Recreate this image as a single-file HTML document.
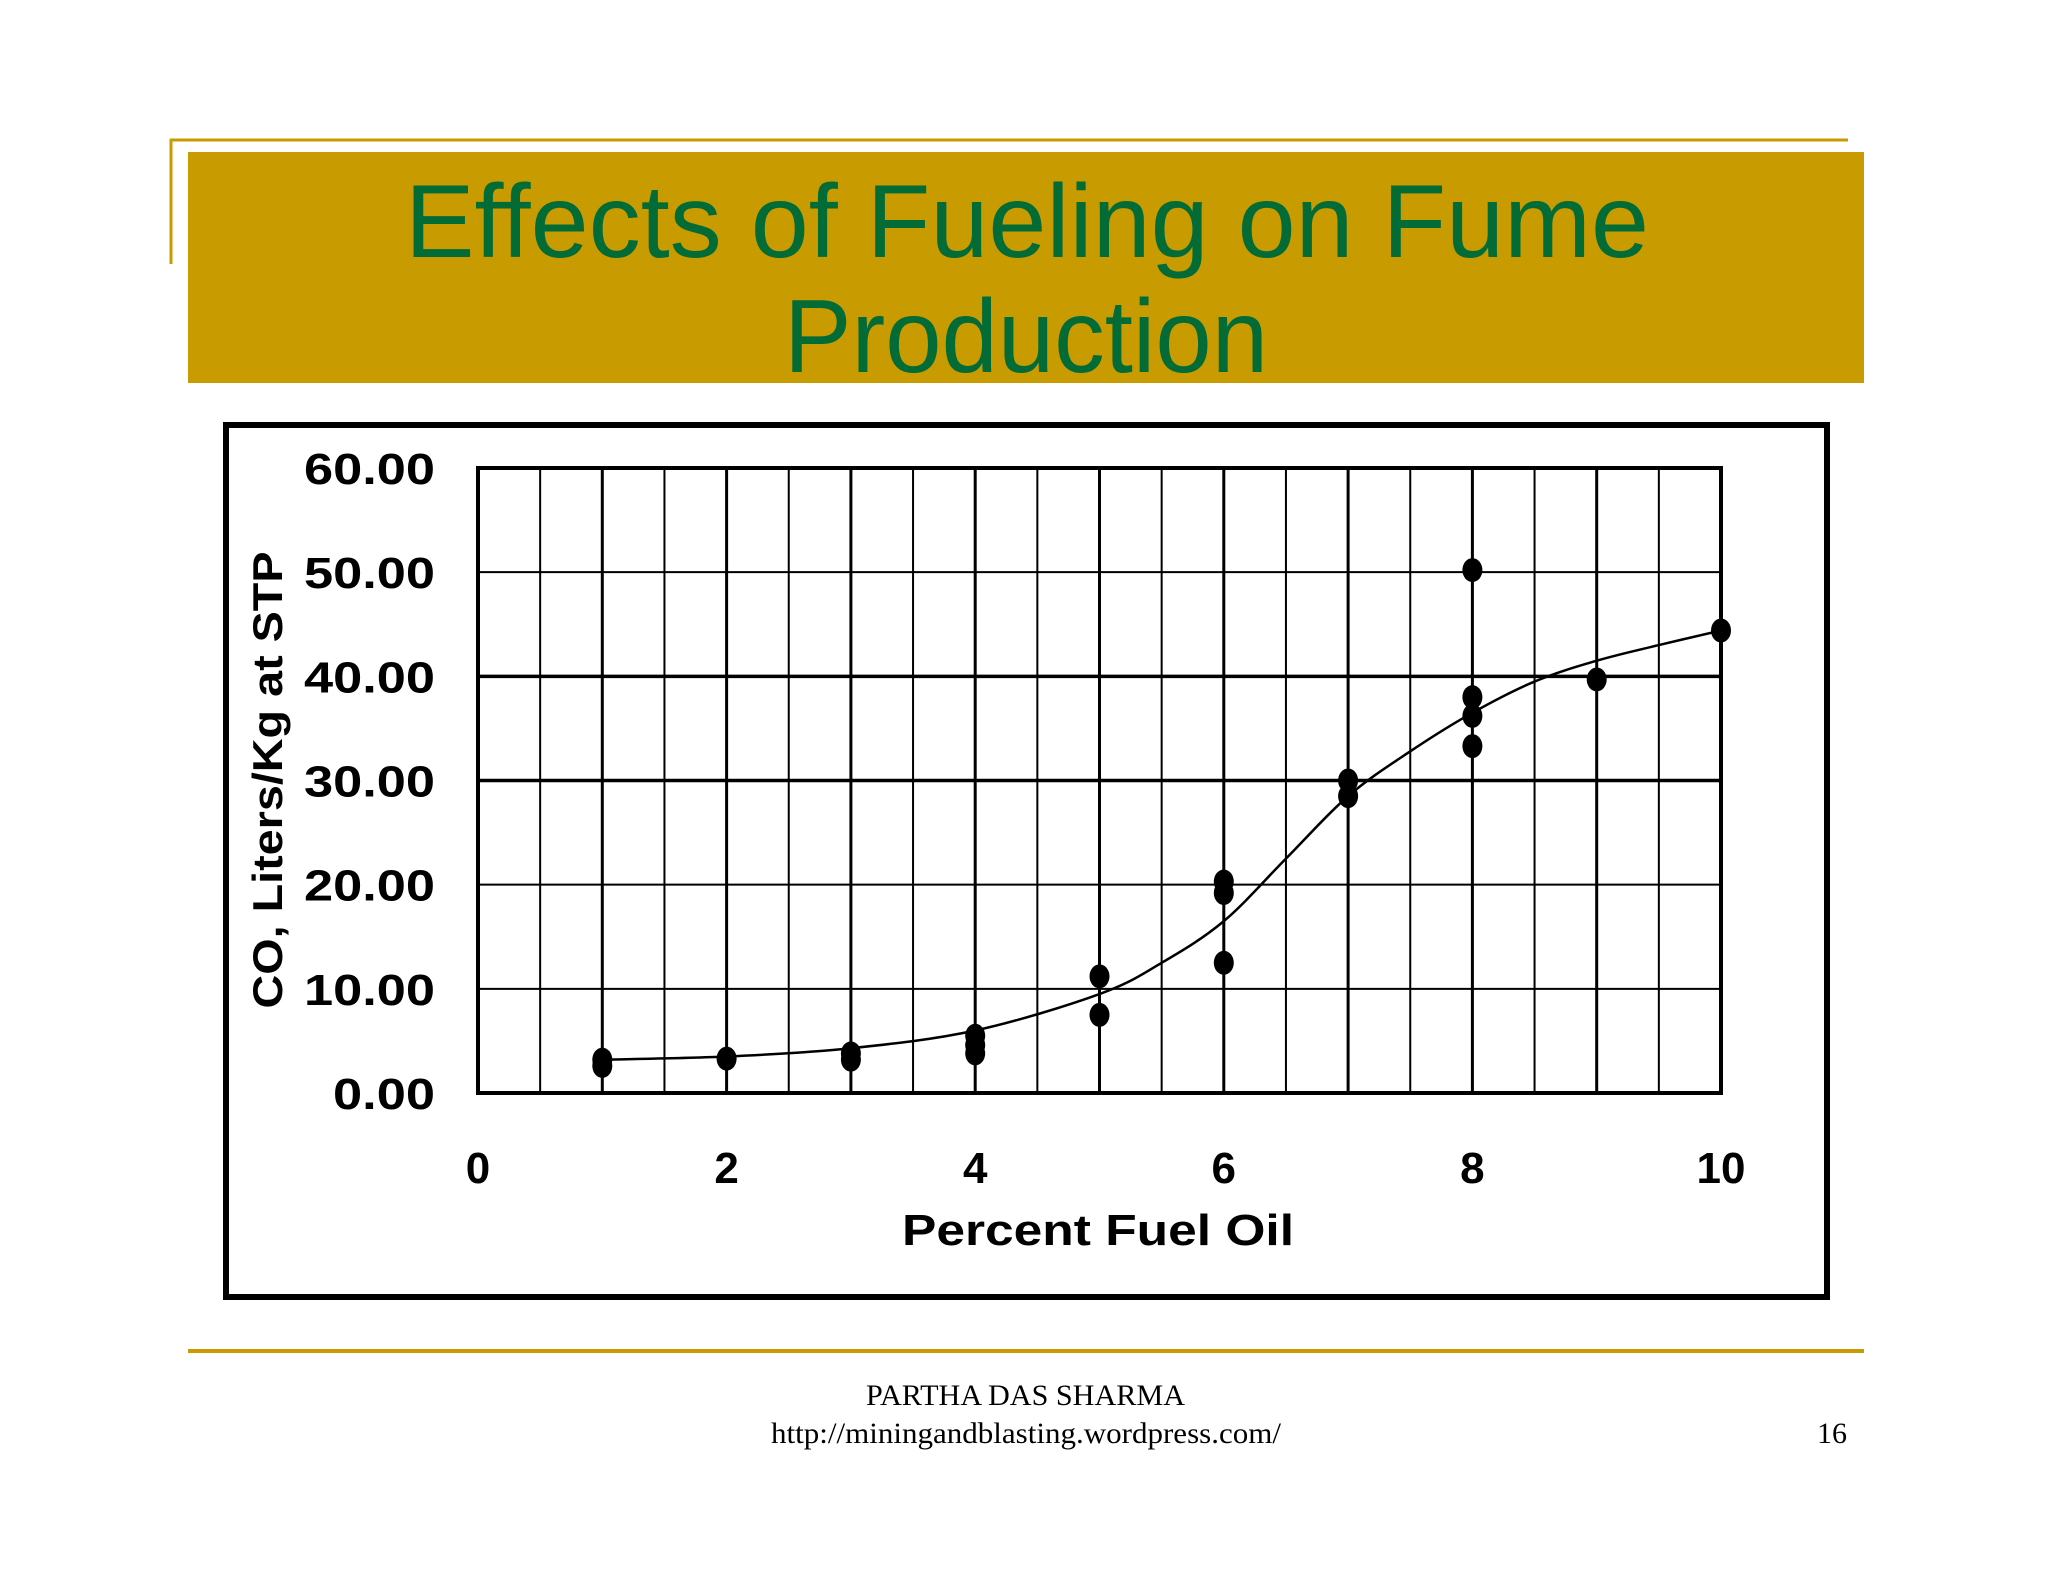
<!DOCTYPE html>
<html><head><meta charset="utf-8"><style>html,body{margin:0;padding:0;background:#fff}svg{display:block}</style></head>
<body>
<svg id="page" width="2048" height="1582" viewBox="0 0 2048 1582" xmlns="http://www.w3.org/2000/svg">
<rect x="0" y="0" width="2048" height="1582" fill="#ffffff"/>
<g>
<line x1="170" y1="140" x2="1848" y2="140" stroke="#c89b00" stroke-width="3"/>
<line x1="171" y1="139" x2="171" y2="264" stroke="#c89b00" stroke-width="3"/>
<rect x="188" y="152" width="1676" height="231" fill="#c89b00"/>
</g>
<g font-family="'Comic Sans MS','Liberation Sans',sans-serif" fill="#036b35" font-size="104">
<text x="405" y="257" textLength="1244" lengthAdjust="spacingAndGlyphs">Effects of Fueling on Fume</text>
<text x="784" y="372" textLength="484" lengthAdjust="spacingAndGlyphs">Production</text>
</g>
<rect x="226" y="425" width="1601" height="872" fill="#fff" stroke="#000" stroke-width="6"/>
<g id="grid"></g>
<g id="curve"></g>
<g id="points"></g>
<g id="yticks" font-family="'Liberation Sans',sans-serif" font-weight="bold" font-size="44" text-anchor="end"></g>
<g id="xticks" font-family="'Liberation Sans',sans-serif" font-weight="bold" font-size="44" text-anchor="middle"></g>
<text x="1098" y="1245" font-family="'Liberation Sans',sans-serif" font-weight="bold" font-size="44" text-anchor="middle" textLength="392" lengthAdjust="spacingAndGlyphs">Percent Fuel Oil</text>
<text transform="translate(282,780) rotate(-90)" x="0" y="0" font-family="'Liberation Sans',sans-serif" font-weight="bold" font-size="42" text-anchor="middle" textLength="457" lengthAdjust="spacingAndGlyphs">CO, Liters/Kg at STP</text>
<line x1="188" y1="1351" x2="1864" y2="1351" stroke="#c89b00" stroke-width="4"/>
<g font-family="'Liberation Serif',serif" font-size="30" fill="#000">
<text x="866" y="1405" textLength="319" lengthAdjust="spacingAndGlyphs">PARTHA DAS SHARMA</text>
<text x="771" y="1443" textLength="510" lengthAdjust="spacingAndGlyphs">http://miningandblasting.wordpress.com/</text>
<text x="1817" y="1443">16</text>
</g>
</svg>
<script>
const xTicks=[0,2,4,6,8,10];
const yTicks=[0,10,20,30,40,50,60];
const yTickLabels=["0.00","10.00","20.00","30.00","40.00","50.00","60.00"];
const pointX=[1,1,2,3,3,4,4,4,5,5,6,6,6,7,7,8,8,8,8,9,10];
const pointY=[2.6,3.2,3.3,3.2,3.8,5.5,4.6,3.8,11.2,7.5,20.3,19.2,12.5,30,28.5,50.2,38,36.2,33.3,39.7,44.4];
const curveX=[1,2,3,4,5,5.5,6,6.5,7,7.5,8,8.5,9,9.5,10];
const curveY=[3.2,3.5,4.3,6,9.5,12.5,16.5,22.5,28.5,32.8,36.5,39.5,41.5,43,44.4];
const NS="http://www.w3.org/2000/svg";
const X0=478,X1=1721,Y0=1093,Y1=468;
const sx=v=>X0+(X1-X0)*v/10;
const sy=v=>Y0-(Y0-Y1)*v/60;
function mk(tag,attrs,parent){const e=document.createElementNS(NS,tag);for(const k in attrs)e.setAttribute(k,attrs[k]);parent.appendChild(e);return e;}
const grid=document.getElementById('grid');
for(let i=0;i<=20;i++){const v=i/2;const l=mk('line',{x1:sx(v),x2:sx(v),y1:Y1,y2:Y0,stroke:'#000','stroke-width':(i%2===0)?3:2},grid);

}
for(let i=0;i<=6;i++){const v=i*10;const w=(i===0||i===6)?4:(i===3||i===4)?3.5:2;const l=mk('line',{x1:X0,x2:X1,y1:sy(v),y2:sy(v),stroke:'#000','stroke-width':w},grid);

}
const fr=mk('rect',{x:X0,y:Y1,width:X1-X0,height:Y0-Y1,fill:'none',stroke:'#000','stroke-width':4},grid);


const cp=curveX.map((x,i)=>[sx(x),sy(curveY[i])]);
let d='M'+cp[0][0]+','+cp[0][1];
for(let i=0;i<cp.length-1;i++){const p0=cp[Math.max(0,i-1)],p1=cp[i],p2=cp[i+1],p3=cp[Math.min(cp.length-1,i+2)];
d+=' C'+(p1[0]+(p2[0]-p0[0])/6)+','+(p1[1]+(p2[1]-p0[1])/6)+' '+(p2[0]-(p3[0]-p1[0])/6)+','+(p2[1]-(p3[1]-p1[1])/6)+' '+p2[0]+','+p2[1];}
const path=mk('path',{d:d,fill:'none',stroke:'#000','stroke-width':2.5},document.getElementById('curve'));


const pts=document.getElementById('points');
pointX.forEach((x,i)=>{const c=mk('ellipse',{cx:sx(x),cy:sy(pointY[i]),rx:10,ry:12,fill:'#000'},pts);

});
const yt=document.getElementById('yticks');
yTicks.forEach((v,i)=>{const t=mk('text',{x:435,y:sy(v)+16,textLength:yTickLabels[i].length>4?131:102,lengthAdjust:'spacingAndGlyphs'},yt);t.textContent=yTickLabels[i];

});
const xt=document.getElementById('xticks');
xTicks.forEach(v=>{const t=mk('text',{x:sx(v),y:1183},xt);t.textContent=String(v);

});
</script>
</body></html>
